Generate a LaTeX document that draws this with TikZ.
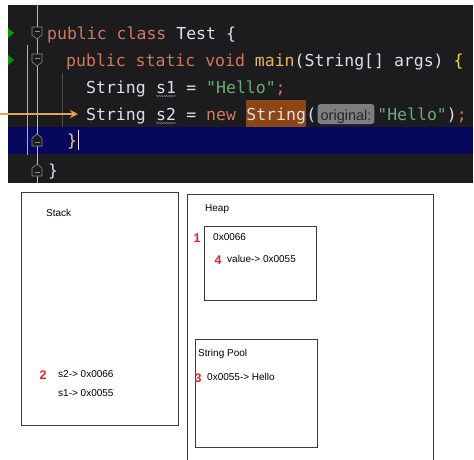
\documentclass[tikz,border=0pt]{standalone}
\usepackage{fontspec}
\setmainfont{Liberation Sans}
\setmonofont{DejaVu Sans Mono}
\usetikzlibrary{arrows.meta,decorations.pathmorphing}
\definecolor{codebg}{HTML}{1C1C1E}
\definecolor{codetxt}{HTML}{DFE1E5}
\definecolor{kw}{HTML}{D5785A}
\definecolor{strg}{HTML}{6AAB73}
\definecolor{fn}{HTML}{E8B95A}
\definecolor{brace}{HTML}{F5D547}
\definecolor{curline}{HTML}{07075E}
\definecolor{hl}{HTML}{8C4514}
\definecolor{hint}{HTML}{7E7E80}
\definecolor{gutter}{HTML}{8A8A8E}
\definecolor{execarrow}{HTML}{E2A64B}
\definecolor{numred}{HTML}{E8202A}
\definecolor{boxgray}{HTML}{3A3A3A}
\begin{document}
\begin{tikzpicture}[x=1pt, y=-1pt,
  every node/.style={inner sep=0pt, anchor=base west},
  code/.style={font=\ttfamily\fontsize{16.5}{16.5}\selectfont, text=codetxt},
  lbl/.style={font=\fontsize{10}{12}\selectfont, text=black},
  num/.style={font=\bfseries\fontsize{12.5}{12}\selectfont, text=numred, anchor=base},
  mem/.style={draw=boxgray, line width=0.8pt},
  fold/.style={draw=gutter, fill=codebg, line width=0.6pt},
  squiggle/.style={draw=gutter, line width=0.5pt, decorate, decoration={snake, amplitude=0.6pt, segment length=2.5pt}}]
\useasboundingbox (0,0) rectangle (474,459);
% code panel
\fill[codebg] (8,5) rectangle (473,183);
\fill[curline] (8,127) rectangle (473,154);
\draw[gutter!60, line width=0.5pt] (37,5) -- (37,183);
\draw[fn!80!gray, line width=0.7pt] (27,45) -- (27,155);
\draw[gray!60!black, line width=0.5pt] (62,73) -- (62,127);
\foreach \y in {33,60}
  \fill[green!60!black] (8,\y-5) -- (14,\y) -- (8,\y+5) -- cycle;
\foreach \y in {33,60} {
  \draw[fold] (32,\y-6) -- (42,\y-6) -- (42,\y+2) -- (37,\y+6) -- (32,\y+2) -- cycle;
  \draw[gutter, line width=0.6pt] (34.5,\y-2) -- (39.5,\y-2);
}
\foreach \y in {140,170} {
  \draw[fold] (32,\y+6) -- (42,\y+6) -- (42,\y-2) -- (37,\y-6) -- (32,\y-2) -- cycle;
  \draw[gutter, line width=0.6pt] (34.5,\y+2) -- (39.5,\y+2);
}

\node[code] (l1) at (47,39) {\textcolor{kw}{public class }Test \{};
\node[code] (l2) at (66,66) {\textcolor{kw}{public static void }\textcolor{fn}{main}(String[] args) \textcolor{brace}{\{}};
\node[code] (l3a) at (86,93) {String\ \null};
\node[code] (s1) at (l3a.base east) {s1};
\node[code] (l3b) at (s1.base east) {\ =\ \textcolor{strg}{"Hello"}\textcolor{kw}{;}};
\node[code] (l4a) at (86,120) {String\ \null};
\node[code] (s2) at (l4a.base east) {s2};
\node[code] (l4b) at (s2.base east) {\ =\ \textcolor{kw}{new}\ \null};
\node[code, fill=hl, text height=20pt, text depth=7pt] (newstr) at (l4b.base east) {String};
\node[code] (paren) at (newstr.base east) {(};
\node[fill=hint, rounded corners=3pt, inner xsep=3pt, inner ysep=2pt, text height=14pt, text depth=2pt,
  font=\fontsize{14.5}{14.5}\selectfont, text=black!85] (inlay) at ([xshift=1pt]paren.base east) {original:};
\node[code] (l4c) at ([xshift=2.5pt]inlay.base east) {\textcolor{strg}{"Hello"})\textcolor{kw}{;}};
\node[code, text=brace] (l5) at (67,146) {\}};
\node[code] (l6) at (48,176) {\}};
\draw[squiggle] ([yshift=-3pt]s1.base west) -- ([yshift=-3pt]s1.base east);
\draw[squiggle] ([yshift=-3pt]s2.base west) -- ([yshift=-3pt]s2.base east);
\draw[white!90!blue, line width=1.2pt] ([xshift=1.5pt,yshift=-4pt]l5.base east) -- ([xshift=1.5pt,yshift=16pt]l5.base east);
% execution point
\coordinate (exec) at (0,114);
\draw[execarrow, line width=1.3pt, -{Stealth[length=8pt, width=8pt]}] (exec) -- ([xshift=-8pt,yshift=6pt]l4a.base west);

% memory
\draw[mem] (21,192) rectangle (178,425);
\draw[mem] (187,460) -- (187,194) -- (433,194) -- (433,460);
\draw[mem] (204,226) rectangle (316,300);
\draw[mem] (195,339) rectangle (317,447);
\node[lbl] (stack) at (46,216.5) {Stack};
\node[lbl] (s2ref) at (58,377.5) {s2-> 0x0066};
\node[lbl] (s1ref) at (58,396.5) {s1-> 0x0055};
\node[lbl] (heap) at (205,211.5) {Heap};
\node[lbl] (obj) at (213,240.5) {0x0066};
\node[lbl] (value) at (227,262.5) {value-> 0x0055};
\node[lbl] (pool) at (198,356.5) {String Pool};
\node[lbl] (hello) at (207,380.5) {0x0055-> Hello};
\node[num] (n1) at (197,242) {1};
\node[num] (n2) at (43,379) {2};
\node[num] (n3) at (198,382) {3};
\node[num] (n4) at (218,264) {4};
\end{tikzpicture}
\end{document}
